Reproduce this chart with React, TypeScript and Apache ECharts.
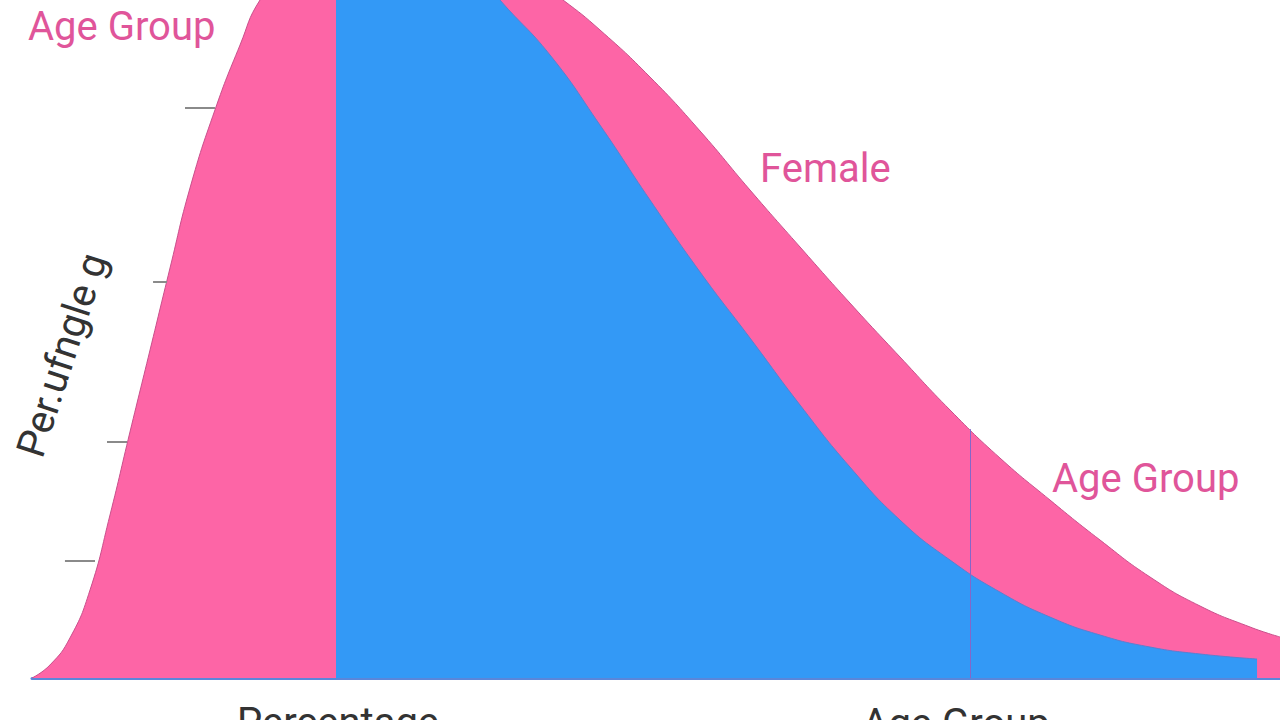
import React, { useEffect, useRef } from "react";
import * as echarts from "echarts";

// Female distribution (x = position along age axis 0-100, y = percentage 0-100)
const femaleData: number[][] = [
  [0, 0], [1.44, 1.92], [3.04, 5.9], [4.65, 12.98], [6.25, 24.04], [7.85, 36.28],
  [9.46, 48.38], [11.06, 60.47], [12.66, 72.27], [14.66, 83.78], [16.67, 93.36],
  [18.27, 100], [20.67, 105], [24.68, 110], [29.49, 112], [34.29, 110],
  [39.1, 104.5], [42.55, 100], [45.51, 95.58], [49.52, 88.64], [53.53, 80.68],
  [57.53, 71.98], [61.54, 63.57], [65.54, 55.31], [69.55, 47.35], [73.56, 39.53],
  [77.56, 32.45], [81.57, 26.25], [85.58, 20.35], [89.58, 14.9], [93.59, 10.62],
  [97.6, 7.52], [100, 6.05],
];

// Male distribution
const maleData: number[][] = [
  [24.36, 116.2], [29.49, 114.7], [33.49, 108.8], [37.5, 100], [41.51, 91.89],
  [45.51, 81.56], [49.52, 70.5], [53.53, 59.88], [57.53, 50.15], [61.54, 40.27],
  [65.54, 31.12], [69.55, 23.3], [73.56, 17.4], [77.56, 12.68], [81.57, 8.99],
  [85.58, 6.34], [89.58, 4.57], [93.59, 3.54], [98.16, 2.8],
];

// Short reference ticks at the left of the female curve: [xStart, xEnd, y]
const tickMarks: number[][] = [
  [12.26, 14.66, 84.07],
  [9.7, 10.82, 58.41],
  [6.01, 7.61, 34.81],
  [2.64, 5.05, 17.26],
];

// Vertical marker line
const markerX = 75.16;
const markerTop = 36.7;

const PINK = "#FD65A6";
const BLUE = "#3399F6";
const PINK_TEXT = "#E0559A";
const DARK = "#333333";

export default function App() {
  const ref = useRef<HTMLDivElement>(null);
  useEffect(() => {
    if (!ref.current) return;
    const chart = echarts.init(ref.current, null, { renderer: "svg" });
    const markLineData: any[] = tickMarks.map((t) => [
      { coord: [t[0], t[2]], lineStyle: { color: "#8a8a8a", width: 2, type: "solid" } },
      { coord: [t[1], t[2]] },
    ]);
    markLineData.push([
      { coord: [markerX, 0], lineStyle: { color: "#8466c8", width: 1, type: "solid" } },
      { coord: [markerX, markerTop] },
    ]);
    const font = "40px Roboto, 'Noto Sans', sans-serif";
    chart.setOption({
      animation: false,
      backgroundColor: "#ffffff",
      grid: { left: 32, right: 0, top: 0, bottom: 42 },
      xAxis: {
        type: "value",
        min: 0,
        max: 100,
        axisLine: { show: true, lineStyle: { color: "#5a86da", width: 3 } },
        axisTick: { show: false },
        axisLabel: { show: false },
        splitLine: { show: false },
      },
      yAxis: {
        type: "value",
        min: 0,
        max: 100,
        axisLine: { show: false },
        axisTick: { show: false },
        axisLabel: { show: false },
        splitLine: { show: false },
      },
      series: [
        {
          name: "Female",
          type: "line",
          data: femaleData,
          smooth: 0.5,
          symbol: "none",
          clip: true,
          z: 2,
          lineStyle: { color: "#c9508c", width: 1 },
          areaStyle: { color: PINK, opacity: 1 },
          markLine: {
            silent: true,
            symbol: ["none", "none"],
            label: { show: false },
            data: markLineData,
          },
        },
        {
          name: "Male",
          type: "line",
          data: maleData,
          smooth: 0.5,
          symbol: "none",
          clip: true,
          z: 3,
          lineStyle: { color: "#5a7fd0", width: 1 },
          areaStyle: { color: BLUE, opacity: 1 },
        },
      ],
      graphic: [
        {
          type: "text",
          x: 28,
          y: 26,
          z: 10,
          style: { text: "Age Group", fill: PINK_TEXT, font, textAlign: "left", textVerticalAlign: "middle", align: "left", verticalAlign: "middle" },
        },
        {
          type: "text",
          x: 760,
          y: 168,
          z: 10,
          style: { text: "Female", fill: PINK_TEXT, font, textAlign: "left", textVerticalAlign: "middle", align: "left", verticalAlign: "middle" },
        },
        {
          type: "text",
          x: 1052,
          y: 478,
          z: 10,
          style: { text: "Age Group", fill: PINK_TEXT, font, textAlign: "left", textVerticalAlign: "middle", align: "left", verticalAlign: "middle" },
        },
        {
          type: "text",
          x: 338,
          y: 722,
          z: 10,
          style: { text: "Percentage", fill: DARK, font, textAlign: "center", textVerticalAlign: "middle", align: "center", verticalAlign: "middle" },
        },
        {
          type: "text",
          x: 956,
          y: 723,
          z: 10,
          style: { text: "Age Group", fill: DARK, font, textAlign: "center", textVerticalAlign: "middle", align: "center", verticalAlign: "middle" },
        },
        {
          type: "text",
          x: 62,
          y: 355,
          rotation: (72 * Math.PI) / 180,
          z: 10,
          style: { text: "Per.ufngle g", fill: DARK, font: "40px Roboto, 'Noto Sans', sans-serif", textAlign: "center", textVerticalAlign: "middle", align: "center", verticalAlign: "middle" },
        },
      ],
    });
    return () => chart.dispose();
  }, []);
  return (
    <div
      ref={ref}
      style={{ position: "fixed", left: 0, top: 0, width: 1280, height: 720 }}
    />
  );
}
